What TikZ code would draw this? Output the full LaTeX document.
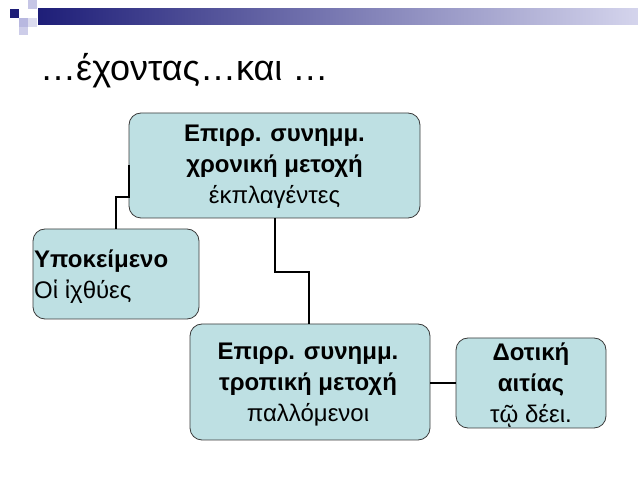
\documentclass[tikz,border=0pt]{standalone}
\usepackage{fontspec}
\setmainfont{Liberation Sans}
\definecolor{boxfill}{HTML}{BEE0E3}
\definecolor{boxline}{HTML}{3A3A3A}
\definecolor{navy}{HTML}{1E1E78}
\definecolor{lav}{HTML}{B8B8E0}
\begin{document}
\begin{tikzpicture}[x=1pt,y=-1pt,
  bx/.style={draw=boxline,fill=boxfill,rounded corners=12pt,line width=0.8pt},
  ln/.style={draw=black,line width=1.5pt},
  big/.style={font=\fontsize{24}{31}\selectfont,align=center}]
\useasboundingbox (0,0) rectangle (638,478);
% decoration
\shade[left color=navy,right color=lav!60] (38,9) rectangle (638,25);
\fill[navy] (10,9) rectangle (19,18);
\fill[lav] (19,18) rectangle (28,27);
\fill[lav!80] (28,0) rectangle (37,9);
\fill[lav!70] (19,27) rectangle (28,35);
\fill[lav!50] (28,18) rectangle (37,27);
\node[anchor=base west,font=\fontsize{36}{40}\selectfont,inner sep=0pt] (title) at (40,81) {…έχοντας…και …};
% boxes
\draw[bx] (129,113) rectangle (420,218);
\node[big] (top) at (274.5,167) {\textbf{Επιρρ. συνημμ.}\\\textbf{χρονική μετοχή}\\έκπλαγέντες};
\draw[bx] (33,229) rectangle (199,319);
\node[big,align=left,anchor=west,inner sep=1pt] (subj) at (33,277) {\textbf{Υποκείμενο}\\Οἱ ἰχθύες};
\draw[bx] (190,324) rectangle (430,440);
\node[big] (mid) at (308,385) {\textbf{Επιρρ. συνημμ.}\\\textbf{τροπική μετοχή}\\παλλόμενοι};
\draw[bx] (456,338) rectangle (606,428);
\node[big] (dat) at (531,385) {\textbf{Δοτική}\\\textbf{αιτίας}\\τῷ δέει.};
\coordinate (a1) at (129,165);
\coordinate (a2) at (116,229);
\coordinate (b1) at (275,218);
\coordinate (b2) at (309,324);
\coordinate (c1) at (430,383);
\coordinate (c2) at (456,383);
\draw[ln] (a1) -- (129,197) -- (116,197) -- (a2);
\draw[ln] (b1) -- (275,272) -- (309,272) -- (b2);
\draw[ln] (c1) -- (c2);
\end{tikzpicture}
\end{document}
